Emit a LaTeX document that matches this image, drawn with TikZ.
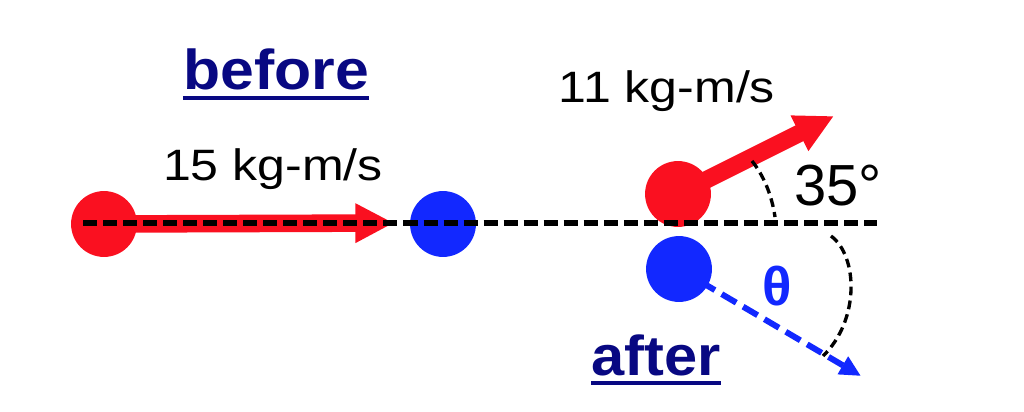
\documentclass[tikz,border=0pt]{standalone}
\usepackage{fontspec}
\setmainfont{Liberation Sans}
\usetikzlibrary{arrows.meta}
\definecolor{redc}{RGB}{250,16,32}
\definecolor{bluec}{RGB}{18,40,255}
\definecolor{navyc}{RGB}{8,8,130}
\begin{document}
\begin{tikzpicture}[x=0.02cm,y=-0.02cm,
  ball/.style={circle,inner sep=0pt,minimum size=37.5pt},
  redball/.style={ball,fill=redc},
  blueball/.style={ball,fill=bluec},
  momarrow/.style={redc,line width=10pt,-{Triangle[length=22pt,width=21pt]}},
  bluearrow/.style={bluec,line width=3.4pt,dash pattern=on 9.6pt off 4.5pt,-{Triangle[length=12pt,width=11pt]}},
  axisline/.style={black,line width=3.1pt,dash pattern=on 8pt off 3.4pt},
  anglearc/.style={black,line width=1.9pt,dash pattern=on 5pt off 3pt},
  lbl/.style={inner sep=0pt,anchor=base},
  title/.style={lbl,text=navyc,font=\fontsize{32}{36}\selectfont\bfseries},
  momlbl/.style={lbl,text=black,font=\fontsize{25}{30}\selectfont},
  underl/.style={navyc,line width=2.5pt}
]
\useasboundingbox (0,0) rectangle (1024,412);

% balls
\node[redball] (r1) at (104,224) {};
\node[blueball] (b1) at (443,224) {};
\node[redball] (r2) at (678,194) {};
\node[blueball] (b2) at (679,269) {};

% momentum arrows
\coordinate (t1) at (394,223);
\coordinate (t2) at (834,116);
\coordinate (t3) at (861,376);
\draw[momarrow] (r1.center) -- (t1);
\draw[momarrow] (r2.center) -- (t2);
\draw[bluearrow] (b2.center) -- (t3);

% dashed axis
\coordinate (a0) at (83,223);
\coordinate (a1) at (877,223);
\draw[axisline] (a0) -- (a1);

% angle arcs
\coordinate (p1) at (752,161);
\coordinate (p2) at (775,217);
\draw[anglearc] (p1) .. controls (764,176) and (772,196) .. (p2);
\coordinate (q1) at (831,236);
\coordinate (q2) at (823,356);
\draw[anglearc] (q1) .. controls (858,256) and (860,320) .. (q2);

% labels
\node[title] (before) at (276,90) {\scalebox{1.08}[1]{before}};
\draw[underl] ([yshift=-4.5pt]before.base west) -- ([yshift=-4.5pt]before.base east);
\node[title] (after) at (656,375) {\scalebox{1.06}[1]{after}};
\draw[underl] ([yshift=-4.5pt]after.base west) -- ([yshift=-4.5pt]after.base east);

\node[momlbl] (m1) at (273,180) {\scalebox{1.14}[1]{15 kg-m/s}};
\node[momlbl] (m2) at (667,103) {\scalebox{1.14}[1]{11 kg-m/s}};
\node[lbl,font=\fontsize{33}{38}\selectfont] (ang) at (838,205) {35°};
\node[lbl,text=bluec,font=\fontsize{31}{36}\selectfont\bfseries] (th) at (777,305) {θ};
\end{tikzpicture}
\end{document}
